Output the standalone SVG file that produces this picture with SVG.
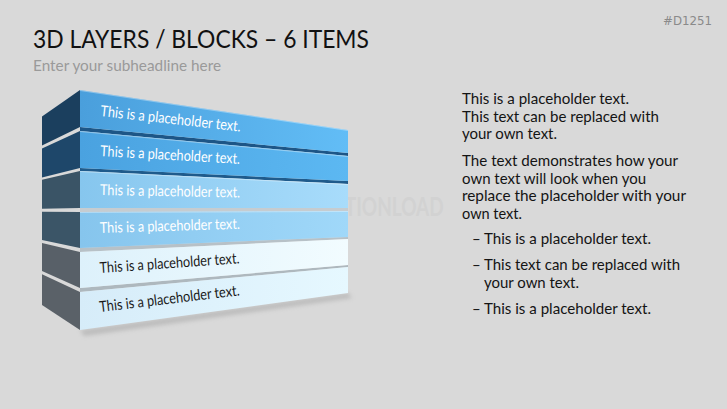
<svg xmlns="http://www.w3.org/2000/svg" width="727" height="409" viewBox="0 0 727 409">
<defs>
<style>
.t{font-family:Lato,"Open Sans","Liberation Sans",sans-serif}
.bt{font-family:Lato,"Open Sans","Liberation Sans",sans-serif;font-size:15px}
.w{fill:#ffffff}
.d{fill:#1a1a1a}
.body{font-family:Lato,"Open Sans","Liberation Sans",sans-serif;font-size:15px;fill:#141414}
.hl{stroke:#ffffff;stroke-opacity:0.35;stroke-width:1;fill:none}
</style>
<linearGradient id="g1" x1="0" y1="0" x2="1" y2="0"><stop offset="0" stop-color="#4a9fdc"/><stop offset="1" stop-color="#62bdf6"/></linearGradient>
<linearGradient id="g2" x1="0" y1="0" x2="1" y2="0"><stop offset="0" stop-color="#4aa2e0"/><stop offset="1" stop-color="#5cb8f2"/></linearGradient>
<linearGradient id="g3" x1="0" y1="0" x2="1" y2="0"><stop offset="0" stop-color="#86c6ee"/><stop offset="1" stop-color="#a8dcfb"/></linearGradient>
<linearGradient id="g4" x1="0" y1="0" x2="1" y2="0"><stop offset="0" stop-color="#86c5ed"/><stop offset="1" stop-color="#a0d8f9"/></linearGradient>
<linearGradient id="g5" x1="0" y1="0" x2="1" y2="0"><stop offset="0" stop-color="#ddf1fb"/><stop offset="1" stop-color="#f2fcff"/></linearGradient>
<linearGradient id="g6" x1="0" y1="0" x2="1" y2="0"><stop offset="0" stop-color="#d6ecf9"/><stop offset="1" stop-color="#e6f8ff"/></linearGradient>
<filter id="sh" x="-10%" y="-50%" width="120%" height="200%"><feGaussianBlur stdDeviation="2"/></filter>
</defs>
<rect width="727" height="409" fill="#d9d9d9"/>

<g id="header">
<text class="t" x="33" y="48" font-size="25" fill="#111111" textLength="336" lengthAdjust="spacingAndGlyphs">3D LAYERS / BLOCKS – 6 ITEMS</text>
<text class="t" x="33" y="71" font-size="15" fill="#9a9a9a" textLength="188" lengthAdjust="spacingAndGlyphs">Enter your subheadline here</text>
<text x="663" y="25" font-family="'DejaVu Sans',sans-serif" font-size="12" fill="#8a8a8a" textLength="49" lengthAdjust="spacingAndGlyphs">#D1251</text>
</g>

<g id="watermark">
<text class="t" transform="translate(252,216) scale(1,1.45)" font-size="19" font-weight="bold" fill="#d2d2d2">PRESENTATIONLOAD</text>
</g>

<g id="shadow">
<polygon points="80,330 348,293 352,298 84,336" fill="#a9a9a9" opacity="0.6" filter="url(#sh)"/>
</g>

<g id="gaps">
<polygon points="80,127 348,153 348,156 80,131" fill="#1d5687"/>
<polygon points="80,168 348,181 348,184 80,171" fill="#1f5b8c"/>
<polygon points="80,208 348,208 348,211 80,212" fill="#c6ccd0"/>
<polygon points="80,248 348,237 348,239 80,252" fill="#b7c1c7"/>
<polygon points="80,288 348,265 348,267 80,292" fill="#aeb8be"/>
</g>

<g id="block1">
<polygon points="42,116.6 80,90 80,127 42,145.5" fill="#1b3f5e"/>
<polygon points="80,90 348,130 348,153 80,127" fill="url(#g1)"/>
<line class="hl" x1="80" y1="90.5" x2="348" y2="130.5"/>
<text class="bt w" transform="translate(100,116) rotate(6.3)" textLength="141" lengthAdjust="spacingAndGlyphs">This is a placeholder text.</text>
</g>

<g id="block2">
<polygon points="42,148.6 80,131 80,168 42,177.5" fill="#1e476a"/>
<polygon points="80,131 348,156 348,181 80,168" fill="url(#g2)"/>
<line class="hl" x1="80" y1="131.5" x2="348" y2="156.5"/>
<text class="bt w" transform="translate(100,156) rotate(3.2)" textLength="140" lengthAdjust="spacingAndGlyphs">This is a placeholder text.</text>
</g>

<g id="block3">
<polygon points="42,179.8 80,171 80,208 42,208.7" fill="#3a5466"/>
<polygon points="80,171 348,184 348,208 80,208" fill="url(#g3)"/>
<line class="hl" x1="80" y1="171.5" x2="348" y2="184.5"/>
<text class="bt w" transform="translate(100,195) rotate(1)" textLength="140" lengthAdjust="spacingAndGlyphs">This is a placeholder text.</text>
</g>

<g id="block4">
<polygon points="42,211.8 80,212 80,248 42,239.9" fill="#3b5567"/>
<polygon points="80,212 348,211 348,237 80,248" fill="url(#g4)"/>
<line class="hl" x1="80" y1="212.5" x2="348" y2="211.5"/>
<text class="bt w" transform="translate(100,233) rotate(-1.7)" textLength="140" lengthAdjust="spacingAndGlyphs">This is a placeholder text.</text>
</g>

<g id="block5">
<polygon points="42,243 80,252 80,288 42,271.1" fill="#586068"/>
<polygon points="80,252 348,239 348,265 80,288" fill="url(#g5)"/>
<text class="bt d" transform="translate(100,273) rotate(-4)" textLength="140" lengthAdjust="spacingAndGlyphs">This is a placeholder text.</text>
</g>

<g id="block6">
<polygon points="42,274.2 80,292 80,330 42,305" fill="#5a6168"/>
<polygon points="80,292 348,267 348,293 80,330" fill="url(#g6)"/>
<text class="bt d" transform="translate(100,312) rotate(-6.8)" textLength="141" lengthAdjust="spacingAndGlyphs">This is a placeholder text.</text>
</g>

<g id="bodytext">
<text class="body" x="462" y="104" textLength="167" lengthAdjust="spacingAndGlyphs">This is a placeholder text.</text>
<text class="body" x="462" y="122" textLength="197" lengthAdjust="spacingAndGlyphs">This text can be replaced with</text>
<text class="body" x="462" y="139" textLength="95" lengthAdjust="spacingAndGlyphs">your own text.</text>
<text class="body" x="462" y="166" textLength="216" lengthAdjust="spacingAndGlyphs">The text demonstrates how your</text>
<text class="body" x="462" y="184" textLength="184" lengthAdjust="spacingAndGlyphs">own text will look when you</text>
<text class="body" x="462" y="201" textLength="224" lengthAdjust="spacingAndGlyphs">replace the placeholder with your</text>
<text class="body" x="462" y="219" textLength="60" lengthAdjust="spacingAndGlyphs">own text.</text>
<text class="body" x="472" y="244">–</text>
<text class="body" x="484" y="244" textLength="167" lengthAdjust="spacingAndGlyphs">This is a placeholder text.</text>
<text class="body" x="472" y="270">–</text>
<text class="body" x="484" y="270" textLength="196" lengthAdjust="spacingAndGlyphs">This text can be replaced with</text>
<text class="body" x="484" y="288" textLength="95" lengthAdjust="spacingAndGlyphs">your own text.</text>
<text class="body" x="472" y="314">–</text>
<text class="body" x="484" y="314" textLength="167" lengthAdjust="spacingAndGlyphs">This is a placeholder text.</text>
</g>
</svg>
